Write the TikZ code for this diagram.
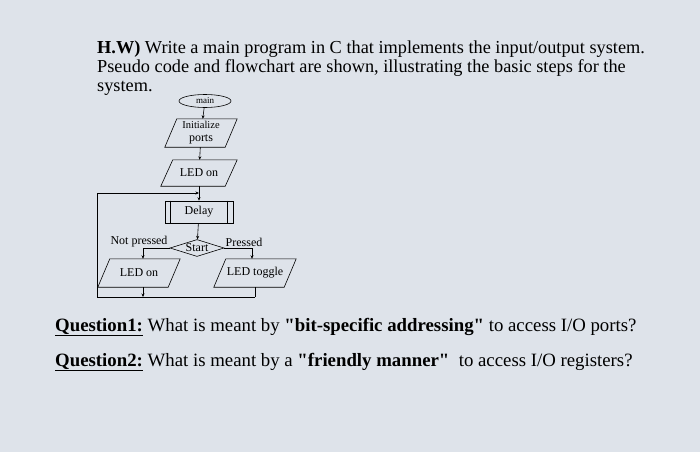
\documentclass[tikz,border=0pt]{standalone}
\usepackage{fontspec}
\setmainfont{Liberation Serif}[Ligatures=TeXOff]
\usetikzlibrary{shapes.geometric,arrows.meta}
\newcommand{\myq}{\char34}
\newcommand{\mypara}[6]{%
  \node[fc,align=center,minimum width=#4,minimum height=#5] (#1) at (#2,#3) {#6};
  \draw[ln] ([xshift=4]#1.north west) -- ([xshift=8]#1.north east) -- ([xshift=-4]#1.south east) -- ([xshift=-8]#1.south west) -- cycle;}
\begin{document}
\begin{tikzpicture}[x=1pt,y=-1pt,
  every node/.style={inner sep=0pt},
  fc/.style={font=\fontsize{12}{13}\selectfont},
  ln/.style={line width=0.6pt},
  ar/.style={line width=0.6pt,-{Stealth[length=3.5pt,width=3pt]}},
  hd/.style={anchor=base west,font=\fontsize{18.3}{20}\selectfont},
  q/.style={anchor=base west,font=\fontsize{18.8}{20}\selectfont}]
\fill[fill={rgb,255:red,222;green,227;blue,234}] (0,0) rectangle (700,452);
\useasboundingbox (0,0) rectangle (700,452);
\node[hd] (h1) at (97,53) {\textbf{H.W)} Write a main program in C that implements the input/output system.};
\node[hd] (h2) at (97,72) {Pseudo code and flowchart are shown, illustrating the basic steps for the};
\node[hd] (h3) at (97,91) {system.};
\node[draw,ellipse,ln,minimum width=52,minimum height=13,font=\fontsize{9}{10}\selectfont] (main) at (205,101) {main};
\mypara{init}{201}{133}{56}{28}{\fontsize{10.5}{11}\selectfont Initialize\\ports}
\mypara{led1}{199}{173}{60}{26}{LED on}
\node[draw,ln,minimum width=68,minimum height=22,fc] (delay) at (199,212) {Delay};
\draw[ln] ([xshift=6]delay.north west) -- ([xshift=6]delay.south west);
\draw[ln] ([xshift=-6]delay.north east) -- ([xshift=-6]delay.south east);
\node[draw,diamond,aspect=3.2,ln,minimum width=54,minimum height=17,fc] (start) at (197,248) {Start};
\mypara{led2}{139}{273}{66}{28}{LED on}
\mypara{tog}{255}{273}{66}{28}{LED toggle}
\node[fc,anchor=south] (np) at (139,247) {Not pressed};
\node[fc,anchor=south] (pr) at (244,247) {Pressed};
\coordinate (jl) at (143,248);
\coordinate (jr) at (252,248);
\coordinate (bl) at (97,297);
\coordinate (tl) at (97,193);
\coordinate (br) at (255,297);
\draw[ar] (main) -- (init);
\draw[ar] (init) -- (led1);
\draw[ar] (led1) -- (delay);
\draw[ar] (delay) -- (start);
\draw[ar] (start.west) -| (led2.north -| jl);
\draw[ar] (start.east) -| (tog.north -| jr);
\draw[ar] (led2.south -| jl) -- (jl |- bl);
\draw[ln] (tog.south) -- (br);
\draw[ar] (br) -- (bl) -- (tl) -- (tl -| delay.north);
\node[q] (q1) at (55,331) {\textbf{\underline{Question1:}} What is meant by \textbf{\myq bit-specific addressing\myq} to access I/O ports?};
\node[q] (q2) at (55,366) {\textbf{\underline{Question2:}} What is meant by a \textbf{\myq friendly manner\myq}\ \ to access I/O registers?};
\end{tikzpicture}
\end{document}
